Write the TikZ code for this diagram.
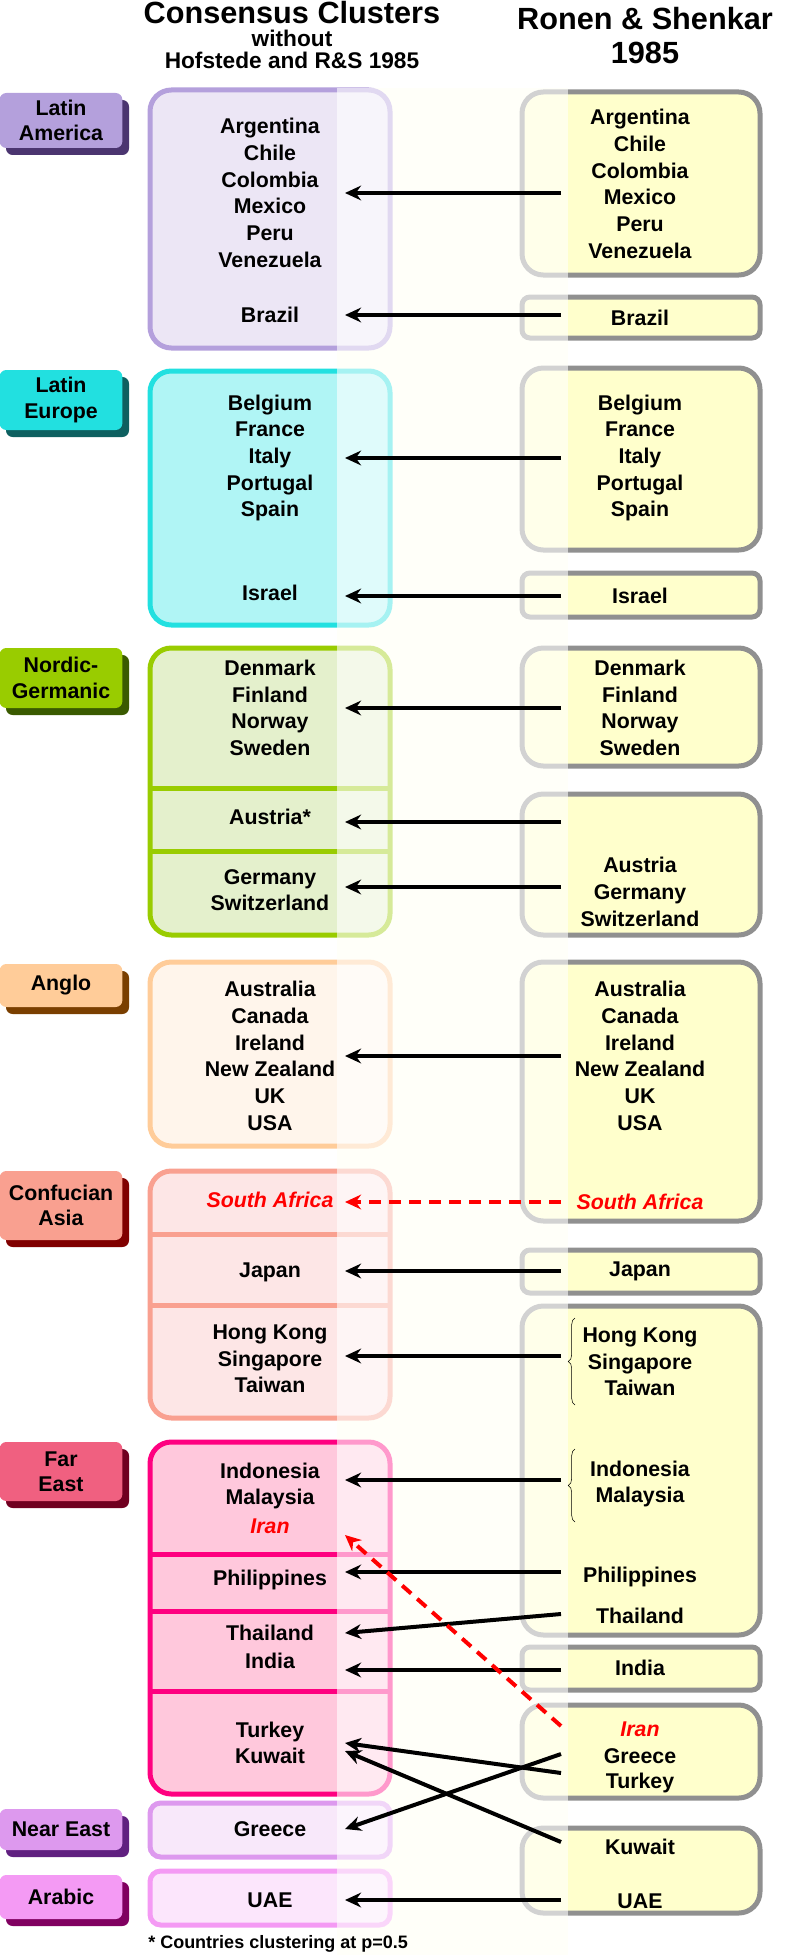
\documentclass[tikz,border=0pt]{standalone}
\usepackage{fontspec}
\setmainfont{Liberation Sans}
\usetikzlibrary{arrows.meta,calc,decorations.pathreplacing}
\definecolor{rbord}{HTML}{909090}
\definecolor{rfill}{HTML}{FFFFCC}
\definecolor{band}{HTML}{FFFFF0}
\definecolor{laB}{HTML}{B4A0DC}\definecolor{laF}{HTML}{ECE6F5}\definecolor{laS}{HTML}{4B3570}
\definecolor{leB}{HTML}{22E0E0}\definecolor{leF}{HTML}{B0F5F5}\definecolor{leS}{HTML}{0E6060}
\definecolor{ngB}{HTML}{99CC00}\definecolor{ngF}{HTML}{E4F0CC}\definecolor{ngS}{HTML}{3A5A00}
\definecolor{anB}{HTML}{FFCC99}\definecolor{anF}{HTML}{FFF5EB}\definecolor{anS}{HTML}{7A3F00}
\definecolor{caB}{HTML}{F9A090}\definecolor{caF}{HTML}{FDE6E6}\definecolor{caS}{HTML}{800000}
\definecolor{feB}{HTML}{FF0080}\definecolor{feF}{HTML}{FFC8DC}\definecolor{feL}{HTML}{F06080}\definecolor{feS}{HTML}{700020}
\definecolor{neB}{HTML}{DD99EE}\definecolor{neF}{HTML}{F8E8FA}\definecolor{neS}{HTML}{602080}
\definecolor{arB}{HTML}{F49AF4}\definecolor{arF}{HTML}{FCE6FC}\definecolor{arS}{HTML}{800060}
\newcommand{\lbox}[4]{\draw[line width=3.75pt,draw=#3,fill=#4,rounded corners=16pt] (150,#1) rectangle (390,#2);}
\newcommand{\rbox}[2]{\draw[line width=3.75pt,draw=rbord,fill=rfill,rounded corners=#2] (522,#1) rectangle (760,\rboxb);}
\newcommand{\clab}[6]{%
  \fill[#4,rounded corners=5pt] (6,#1+7) rectangle (129,#2+7);
  \node[labbox,fill=#3,minimum height={(#2-#1)*0.75pt}] (#5) at (61,{(#1+#2)/2}) {#6};}
\begin{document}
\begin{tikzpicture}[x=0.75pt,y=-0.75pt,
  ct/.style={font=\bfseries\fontsize{16}{20}\selectfont,align=center,inner sep=0pt},
  rt/.style={ct,text=red,font=\bfseries\itshape\fontsize{16}{20}\selectfont},
  labbox/.style={draw=none,rounded corners=5pt,minimum width=92pt,inner sep=0pt,font=\bfseries\fontsize{16}{19}\selectfont,align=center},
  arr/.style={line width=3pt,-{Stealth[length=12pt,width=11pt]}},
  rarr/.style={arr,red,dashed,dash pattern=on 9pt off 6pt},
  hd/.style={font=\bfseries\fontsize{23}{26}\selectfont,inner sep=0pt},
  sh/.style={font=\bfseries\fontsize{17}{19}\selectfont,inner sep=0pt}]
\useasboundingbox (0,0) rectangle (785,1955);
\fill[band] (337,88) rectangle (568,1955);
% headers
\node[hd] (h1) at (292,13) {Consensus Clusters};
\node[sh] (h2) at (292,38) {without};
\node[sh] (h3) at (292,60) {Hofstede and R\&S 1985};
\node[hd] (h4) at (645,19) {Ronen \& Shenkar};
\node[hd] (h5) at (645,53) {1985};
% left boxes
\lbox{90}{348}{laB}{laF}
\lbox{371}{625}{leB}{leF}
\lbox{648}{935}{ngB}{ngF}
\draw[line width=3.75pt,ngB] (150,788) -- (388,788) (150,851) -- (388,851);
\lbox{962}{1146}{anB}{anF}
\lbox{1171}{1418}{caB}{caF}
\draw[line width=3.75pt,caB] (150,1234) -- (388,1234) (150,1305) -- (388,1305);
\lbox{1442}{1794}{feB}{feF}
\draw[line width=3.75pt,feB] (150,1554) -- (388,1554) (150,1611) -- (388,1611) (150,1691) -- (388,1691);
\draw[line width=3.75pt,draw=neB,fill=neF,rounded corners=8pt] (150,1803) rectangle (390,1857);
\draw[line width=3.75pt,draw=arB,fill=arF,rounded corners=8pt] (150,1871) rectangle (390,1925);
% right boxes
\def\rboxb{275}\rbox{92}{16pt}
\def\rboxb{338}\rbox{297}{6pt}
\def\rboxb{550}\rbox{368}{16pt}
\def\rboxb{617}\rbox{573}{6pt}
\def\rboxb{766}\rbox{648}{16pt}
\def\rboxb{935}\rbox{794}{16pt}
\def\rboxb{1221}\rbox{962}{16pt}
\def\rboxb{1293}\rbox{1250}{6pt}
\def\rboxb{1635}\rbox{1306}{16pt}
\def\rboxb{1690}\rbox{1647}{6pt}
\def\rboxb{1798}\rbox{1705}{16pt}
\def\rboxb{1913}\rbox{1828}{16pt}
% overlay band
\fill[white,opacity=0.6] (337,88) rectangle (568,1955);
% cluster labels
\clab{93}{148}{laB}{laS}{cLA}{Latin\\America}
\clab{370}{430}{leB}{leS}{cLE}{Latin\\Europe}
\clab{648}{708}{ngB}{ngS}{cNG}{Nordic-\\Germanic}
\clab{964}{1007}{anB}{anS}{cAn}{Anglo}
\clab{1171}{1240}{caB}{caS}{cCA}{Confucian\\Asia}
\clab{1442}{1501}{feL}{feS}{cFE}{Far\\East}
\clab{1809}{1850}{neB}{neS}{cNE}{Near East}
\clab{1875}{1919}{arB}{arS}{cAr}{Arabic}
% texts
\node[ct] (lLA) at (270,193) {Argentina\\Chile\\Colombia\\Mexico\\Peru\\Venezuela};
\node[ct] (lBr) at (270,315) {Brazil};
\node[ct] (rLA) at (640,184) {Argentina\\Chile\\Colombia\\Mexico\\Peru\\Venezuela};
\node[ct] (rBr) at (640,318) {Brazil};
\node[ct] (lLE) at (270,458) {Belgium\\France\\Italy\\Portugal\\Spain};
\node[ct] (lIs) at (270,593) {Israel};
\node[ct] (rLE) at (640,458) {Belgium\\France\\Italy\\Portugal\\Spain};
\node[ct] (rIs) at (640,596) {Israel};
\node[ct] (lNG) at (270,708) {Denmark\\Finland\\Norway\\Sweden};
\node[ct] (lAu) at (270,817) {Austria*};
\node[ct] (lGS) at (270,890) {Germany\\Switzerland};
\node[ct] (rNG) at (640,708) {Denmark\\Finland\\Norway\\Sweden};
\node[ct] (rAGS) at (640,892) {Austria\\Germany\\Switzerland};
\node[ct] (lAn) at (270,1056) {Australia\\Canada\\Ireland\\New Zealand\\UK\\USA};
\node[ct] (rAn) at (640,1056) {Australia\\Canada\\Ireland\\New Zealand\\UK\\USA};
\node[rt] (lSA) at (270,1200) {South Africa};
\node[rt] (rSA) at (640,1202) {South Africa};
\node[ct] (lJa) at (270,1272) {Japan};
\node[ct] (rJa) at (640,1271) {Japan};
\node[ct] (lHK) at (270,1359) {Hong Kong\\Singapore\\Taiwan};
\node[ct] (rHK) at (640,1362) {Hong Kong\\Singapore\\Taiwan};
\node[ct] (lIM) at (270,1486) {Indonesia\\Malaysia};
\node[rt] (lIr) at (270,1526) {Iran};
\node[ct] (rIM) at (640,1484) {Indonesia\\Malaysia};
\node[ct] (lPh) at (270,1580) {Philippines};
\node[ct] (rPh) at (640,1577) {Philippines};
\node[ct] (lTh) at (270,1633) {Thailand};
\node[ct] (lIn) at (270,1661) {India};
\node[ct] (rTh) at (640,1616) {Thailand};
\node[ct] (rIn) at (640,1668) {India};
\node[ct] (lTK) at (270,1743) {Turkey\\Kuwait};
\node[rt] (rIr) at (640,1729) {Iran};
\node[ct] (rGr) at (640,1756) {Greece};
\node[ct] (rTu) at (640,1783) {Turkey};
\node[ct] (rKu) at (640,1847) {Kuwait};
\node[ct] (rUA) at (640,1901) {UAE};
\node[ct] (lGr) at (270,1829) {Greece};
\node[ct] (lUA) at (270,1900) {UAE};
\node[font=\bfseries\fontsize{13.5}{16}\selectfont,anchor=west,inner sep=0pt] (fn) at (148,1944) {* Countries clustering at p=0.5};
% braces
\draw[decorate,decoration={brace,amplitude=5pt}] (575,1405) -- (575,1318) coordinate (b1);
\draw[decorate,decoration={brace,amplitude=5pt}] (575,1522) -- (575,1449) coordinate (b2);
% arrows
\coordinate (R) at (561,0);
\coordinate (L) at (345,0);
\draw[arr] (lLA -| R) -- (lLA -| L);
\draw[arr] (lBr -| R) -- (lBr -| L);
\draw[arr] (rLE -| R) -- (rLE -| L);
\draw[arr] (rIs -| R) -- (rIs -| L);
\draw[arr] (lNG -| R) -- (lNG -| L);
\draw[arr] ($(lAu -| R)+(0,5)$) -- ($(lAu -| L)+(0,5)$);
\draw[arr] ($(lGS -| R)+(0,-3)$) -- ($(lGS -| L)+(0,-3)$);
\draw[arr] (rAn -| R) -- (rAn -| L);
\draw[rarr] (rSA -| R) -- (rSA -| L);
\draw[arr] (rJa -| R) -- (rJa -| L);
\draw[arr] ($(lHK -| R)+(0,-3)$) -- ($(lHK -| L)+(0,-3)$);
\draw[arr] ($(rIM -| R)+(0,-4)$) -- ($(rIM -| L)+(0,-4)$);
\draw[arr] ($(rPh -| R)+(0,-5)$) -- ($(rPh -| L)+(0,-5)$);
\draw[arr] ($(rTh -| R)+(0,-2)$) -- (lTh -| L);
\draw[arr] ($(lIn -| R)+(0,9)$) -- ($(lIn -| L)+(0,9)$);
\draw[rarr] ($(rIr -| R)+(0,-3)$) -- ($(lIr -| L)+(0,9)$);
\draw[arr] ($(rTu -| R)+(0,-10)$) -- (lTK -| L);
\draw[arr] ($(rGr -| R)+(0,-2)$) -- (lGr -| L);
\draw[arr] ($(rKu -| R)+(0,-5)$) -- ($(lTK -| L)+(0,8)$);
\draw[arr] (lUA -| R) -- (lUA -| L);
\end{tikzpicture}
\end{document}
